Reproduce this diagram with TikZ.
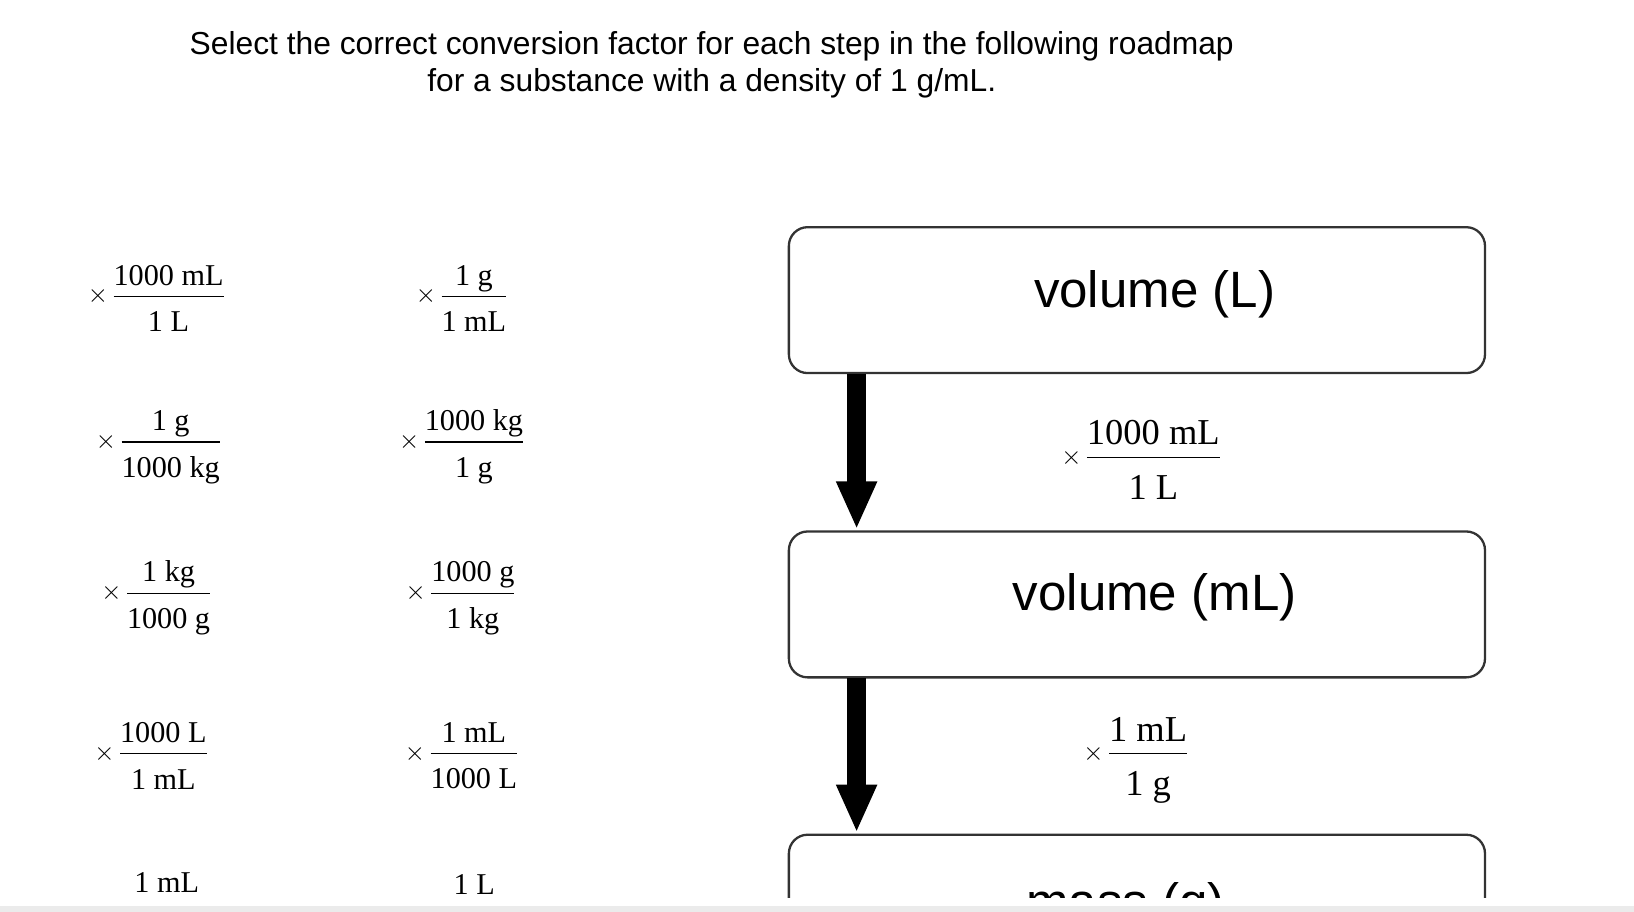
\documentclass[tikz,border=0pt]{standalone}
\usepackage{amsmath}
\usepackage{fontspec}
\usetikzlibrary{arrows.meta}
\setmainfont{Liberation Serif}
\newfontfamily\sansf{Liberation Sans}
\newcommand{\cf}[2]{\times\,\dfrac{\rule[-0.25em]{0pt}{1em}\text{#1}}{\rule{0pt}{1.05em}\text{#2}}}
\begin{document}
\begin{tikzpicture}[x=1pt,y=-1pt,
  stage/.style={draw=black!80,line width=2.2pt,rounded corners=18pt},
  stagetext/.style={font=\sansf\fontsize{49}{54}\selectfont},
  frac/.style={font=\fontsize{29}{34}\selectfont},
  bigfrac/.style={font=\fontsize{35}{40}\selectfont},
  fat/.style={line width=18pt,-{Triangle[width=36pt,length=46pt]}}]
\useasboundingbox (0,0) rectangle (1568,875);
\fill[black!8] (0,869) rectangle (1568,875);
\node[font=\sansf\fontsize{30.5}{35}\selectfont,align=center] (title) at (683,62)
  {Select the correct conversion factor for each step in the following roadmap\\for a substance with a density of 1 g/mL.};
\begin{scope}
\clip (0,0) rectangle (1568,861);
\draw[stage] (757,218) rectangle (1425,358);
\draw[stage] (757,510) rectangle (1425,650);
\draw[stage] (757,801) rectangle (1425,950);
\node[stagetext] (vL) at (1108,282) {volume (L)};
\node[stagetext] (vmL) at (1108,573) {volume (mL)};
\node[stagetext] (mg) at (1080,870) {mass (g)};
\coordinate (a1s) at (822,359); \coordinate (a1e) at (822,508);
\coordinate (a2s) at (822,651); \coordinate (a2e) at (822,799);
\draw[fat] (a1s) -- (a1e);
\draw[fat] (a2s) -- (a2e);
\node[frac] (f11) at (150,285) {$\cf{1000 mL}{1 L}$};
\node[frac] (f21) at (152,428) {$\cf{1 g}{1000 kg}$};
\node[frac] (f31) at (150,573) {$\cf{1 kg}{1000 g}$};
\node[frac] (f41) at (145,724) {$\cf{1000 L}{1 mL}$};
\node[frac] (f12) at (443,285) {$\cf{1 g}{1 mL}$};
\node[frac] (f22) at (443,428) {$\cf{1000 kg}{1 g}$};
\node[frac] (f32) at (442,573) {$\cf{1000 g}{1 kg}$};
\node[frac] (f42) at (443,724) {$\cf{1 mL}{1000 L}$};
\node[frac] (f51) at (160,847) {1 mL};
\node[frac] (f52) at (455,849) {1 L};
\node[bigfrac] (r1) at (1095,440) {$\cf{1000 mL}{1 L}$};
\node[bigfrac] (r2) at (1090,728) {$\cf{1 mL}{1 g}$};
\end{scope}
\end{tikzpicture}
\end{document}
